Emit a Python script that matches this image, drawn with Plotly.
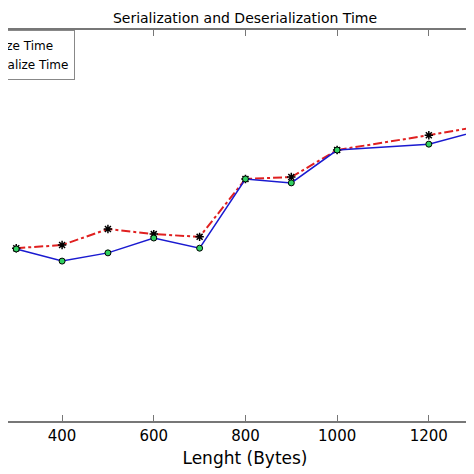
import plotly.graph_objects as go

lengths = [300, 400, 500, 600, 700, 800, 900, 1000, 1200, 1400]
serialize = [44.2, 45.0, 49.1, 47.8, 47.1, 61.9, 62.4, 69.3, 73.1, 77.2]
deserialize = [44.0, 40.9, 43.0, 46.8, 44.2, 61.9, 60.9, 69.3, 70.8, 77.0]
tick_vals = [400, 600, 800, 1000, 1200]

fig = go.Figure()
fig.add_trace(go.Scatter(x=lengths, y=serialize, name="Serialize Time", mode="lines+markers",
    line=dict(color="#e02020", width=2, dash="dashdot"),
    marker=dict(symbol="asterisk", size=7, color="black", line=dict(color="black", width=1.5))))
fig.add_trace(go.Scatter(x=lengths, y=deserialize, name="Deserialize Time", mode="lines+markers",
    line=dict(color="#1a1ad0", width=1.5),
    marker=dict(symbol="circle", size=6, color="#30d060", line=dict(color="black", width=1))))

fig.update_layout(
    width=474, height=474, margin=dict(l=0, r=0, t=22, b=61, autoexpand=False),
    paper_bgcolor="white", plot_bgcolor="white",
    font=dict(family="DejaVu Sans", color="black"),
    title=dict(text="Serialization and Deserialization Time", x=0.5, xanchor="center", y=0.99, yanchor="top",
               font=dict(size=14)),
    legend=dict(x=67/474, xanchor="right", y=1, yanchor="top", bgcolor="white",
                bordercolor="#888", borderwidth=1, font=dict(size=12), tracegroupgap=0),
    xaxis=dict(range=[282, 1316], tickvals=tick_vals, ticks="inside", ticklen=6, tickcolor="#777",
               showline=True, linecolor="#777", linewidth=1.5, mirror="ticks", showgrid=False, zeroline=False,
               automargin=False,
               tickfont=dict(size=15), title=dict(text="Lenght (Bytes)", font=dict(size=17), standoff=8)),
    yaxis=dict(range=[0, 100], showticklabels=False, showgrid=False, zeroline=False, ticks="",
               automargin=False),
)
fig.write_html("out.html")
